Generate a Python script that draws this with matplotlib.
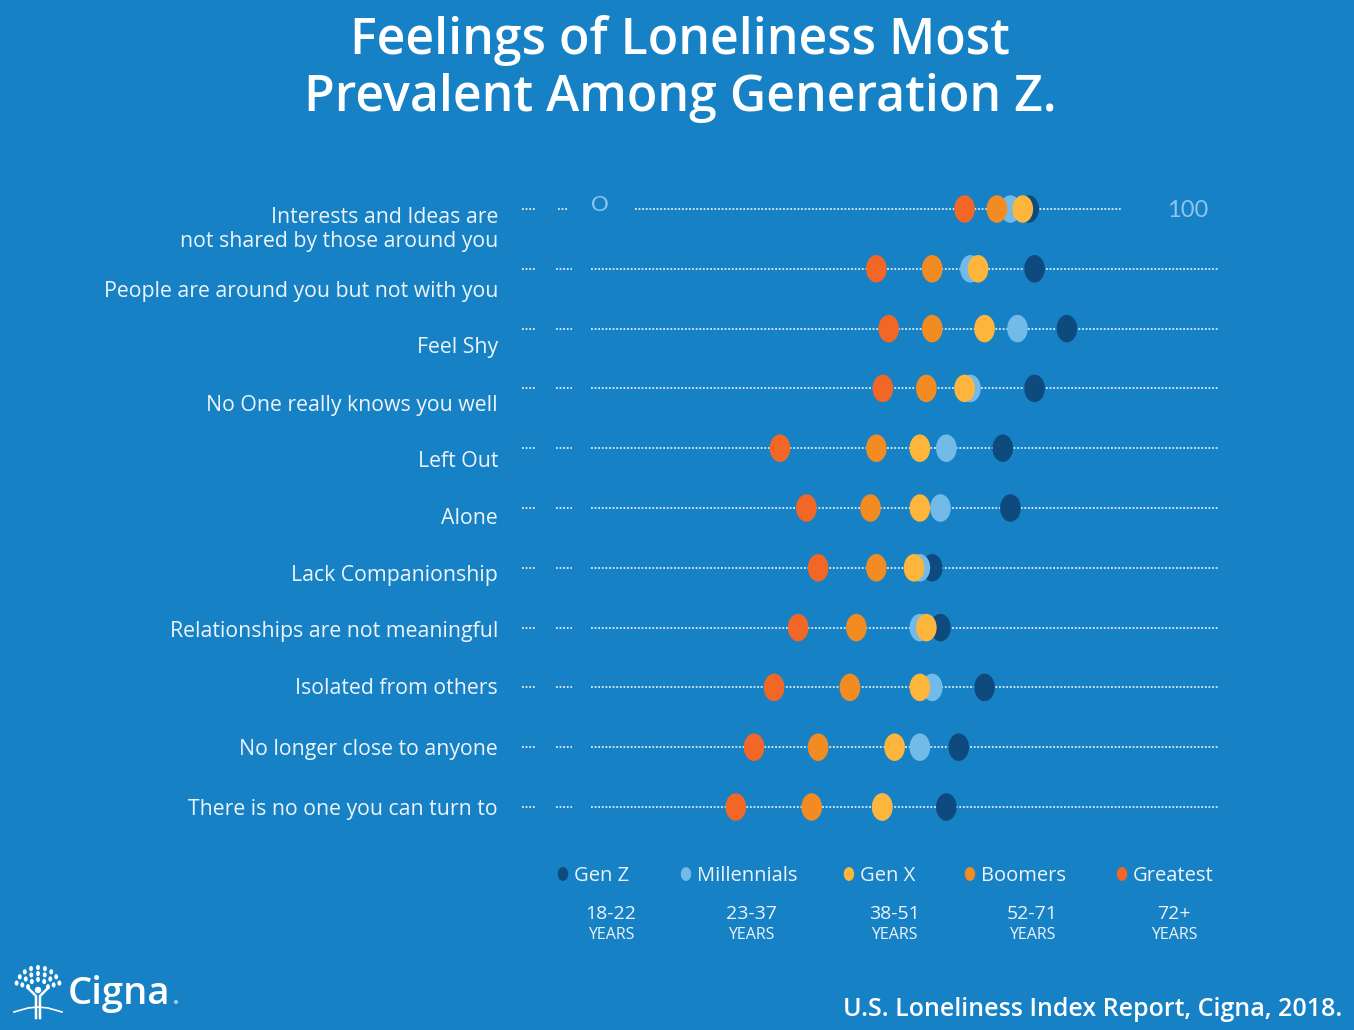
import matplotlib
matplotlib.use("Agg")
import matplotlib.pyplot as plt
import numpy as np
from matplotlib.path import Path
from matplotlib.markers import MarkerStyle

W, H = 1354, 1030
BG = "#1682C5"

categories = ["Interests and Ideas are\nnot shared by those around you",
              "People are around you but not with you",
              "Feel Shy",
              "No One really knows you well",
              "Left Out",
              "Alone",
              "Lack Companionship",
              "Relationships are not meaningful",
              "Isolated from others",
              "No longer close to anyone",
              "There is no one you can turn to"]
gen_z = [72.9, 73.9, 79.4, 73.9, 68.5, 69.8, 56.5, 57.9, 65.4, 61.0, 58.9]
millennials = [69.8, 63.0, 71.0, 63.0, 58.9, 57.9, 54.4, 54.4, 56.5, 54.4, 48.0]
gen_x = [71.9, 64.3, 65.4, 62.0, 54.4, 54.4, 53.4, 55.5, 54.4, 50.1, 48.0]
boomers = [67.5, 56.5, 56.5, 55.5, 47.0, 46.0, 47.0, 43.6, 42.5, 37.1, 36.0]
greatest = [62.0, 47.0, 49.1, 48.1, 30.6, 35.1, 37.1, 33.7, 29.6, 26.2, 23.1]
generations = ["Gen Z", "Millennials", "Gen X", "Boomers", "Greatest"]
age_ranges = ["18-22", "23-37", "38-51", "52-71", "72+"]
colors = ["#0E4A7E", "#72BBE9", "#FDB53B", "#F28C22", "#F26626"]

FONT = "Open Sans"
TXT = "#EEF4FA"

fig = plt.figure(figsize=(W / 100, H / 100), dpi=100)
fig.patch.set_facecolor(BG)

def fx(px):
    return px / W

def fy(py):
    return 1 - py / H

# main axes: x 0..100 maps to px 600..1188; rows 0..10 map to py 209..807
row_top, row_bot = 209, 807
step = (row_bot - row_top) / 10
ax = fig.add_axes([fx(600), fy(row_bot + step / 2), fx(1188) - fx(600),
                   (row_bot - row_top + step) / H])
ax.set_xlim(0, 100)
ax.set_ylim(len(categories) - 0.5, -0.5)
ax.axis("off")
ax.set_facecolor("none")

def v(px):
    return (px - 600) / 5.88

n = len(categories)
ys = np.arange(n)
for i in ys:
    kw = dict(color="white", lw=1.3, ls=(0, (1, 1)), alpha=0.85,
              clip_on=False, solid_capstyle="butt", dash_capstyle="butt")
    ax.plot([v(522), v(536)], [i, i], **kw)
    if i == 0:
        ax.plot([v(558), v(568)], [i, i], **kw)
        ax.plot([v(635), v(1122)], [i, i], **kw)
    else:
        ax.plot([v(556), v(572)], [i, i], **kw)
        ax.plot([v(591), v(1218)], [i, i], **kw)

circ = Path.unit_circle()
ell = Path(circ.vertices * np.array([0.75, 1.0]), circ.codes)
mk = MarkerStyle(ell)

series = [gen_z, millennials, gen_x, boomers, greatest]
for k, (vals, c) in enumerate(zip(series, colors)):
    ax.scatter(vals, ys, s=19.8 ** 2, marker=mk, color=c, edgecolors="none",
               zorder=3 + k, clip_on=False)

ax.text(0, -0.07, "O", color="#8CC6EE", fontsize=16, ha="center", va="center",
        family="Lato")
ax.text(100, 0.02, "100", color="#8CC6EE", fontsize=17, ha="center",
        va="center", family="Lato")

# category labels
label_py = [229.5, 292, 348, 405, 461, 518, 575, 631, 688, 749, 809]
for lab, py in zip(categories, label_py):
    fig.text(fx(498), fy(py), lab, color=TXT, fontsize=15.3, ha="right",
             va="center", family=FONT, linespacing=1.22)

# title
fig.text(fx(680), fy(41), "Feelings of Loneliness Most", color="white",
         fontsize=36, ha="center", va="center", family=FONT, fontweight="semibold")
fig.text(fx(680), fy(98), "Prevalent Among Generation Z.", color="white",
         fontsize=36, ha="center", va="center", family=FONT, fontweight="semibold")

# legend
leg_dot_px = [563, 686, 849, 970, 1122]
age_px = [611, 751, 894, 1032, 1174]
lax = fig.add_axes([0, 0, 1, 1])
lax.set_xlim(0, W)
lax.set_ylim(H, 0)
lax.axis("off")
lax.set_facecolor("none")
for g, c, px in zip(generations, colors, leg_dot_px):
    lax.scatter([px], [874], s=10 ** 2, marker=mk, color=c, edgecolors="none")
    lax.text(px + 11, 876, g, color=TXT, fontsize=14.5, ha="left",
             va="center", family=FONT)
for a, px in zip(age_ranges, age_px):
    lax.text(px, 914, a, color=TXT, fontsize=14, ha="center", va="center",
             family=FONT)
    lax.text(px, 935, "YEARS", color=TXT, fontsize=11.5, ha="center",
             va="center", family=FONT)

# source
lax.text(1342, 1009, "U.S. Loneliness Index Report, Cigna, 2018.", color="white",
         fontsize=18, ha="right", va="center", family=FONT, fontweight="semibold")

# Cigna logo
lax.text(68, 994, "Cigna", color="white", fontsize=27.5, ha="left", va="center",
         family=FONT, fontweight="semibold")
lax.scatter([176], [1002], s=9, color="#9CC9EA", edgecolors="none")
# tree icon
cx, cy = 38, 1000
for r, nleaf in [(30, 9), (22, 7), (14, 5)]:
    angs = np.linspace(np.pi * 0.1, np.pi * 0.9, nleaf)
    lax.scatter(cx + r * 0.75 * np.cos(angs), cy - 10 - r * np.sin(angs) * 0.75,
                s=14, marker=mk, color="white", edgecolors="none")
lax.scatter([cx], [cy - 10], s=22, color="white", edgecolors="none")
lax.plot([cx - 2, cx - 2, cx - 10], [1018, cy - 4, cy - 12], color="white", lw=1.8)
lax.plot([cx + 2, cx + 2, cx + 10], [1018, cy - 4, cy - 12], color="white", lw=1.8)
lax.plot([14, 28, 38, 48, 62], [1012, 1008, 1007, 1008, 1012], color="white", lw=1.2)

fig.savefig("out.png", dpi=100, facecolor=BG)
